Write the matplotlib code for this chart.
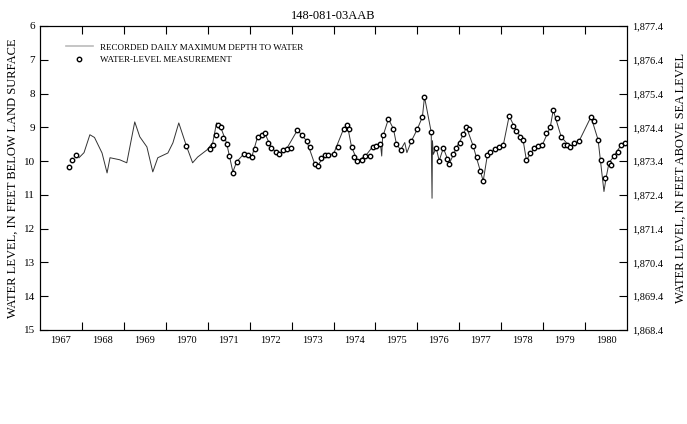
import matplotlib
matplotlib.use("Agg")
import matplotlib.pyplot as plt

plt.rcParams['font.family'] = ['Liberation Serif', 'DejaVu Serif']

meas_year = [1967.69,1967.77,1967.86,1970.48,1971.05,1971.12,1971.19,1971.24,1971.31,1971.36,1971.45,1971.50,1971.60,1971.69,1971.86,1971.95,
             1972.05,1972.12,1972.19,1972.29,1972.36,1972.43,1972.52,1972.62,1972.69,1972.79,1972.88,1972.98,
             1973.14,1973.26,1973.36,1973.45,1973.55,1973.62,1973.69,1973.79,1973.88,
             1974.00,1974.10,1974.24,1974.33,1974.38,1974.43,1974.50,1974.57,1974.67,1974.76,1974.88,1974.93,
             1975.02,1975.12,1975.19,1975.31,1975.43,1975.50,1975.60,1975.86,
             1976.00,1976.12,1976.17,1976.33,1976.45,1976.52,1976.62,1976.71,1976.76,1976.86,1976.93,
             1977.02,1977.10,1977.17,1977.24,1977.33,1977.43,1977.50,1977.57,1977.67,1977.74,1977.86,1977.95,
             1978.05,1978.19,1978.29,1978.36,1978.45,1978.52,1978.60,1978.69,1978.79,1978.88,1978.98,
             1979.07,1979.17,1979.24,1979.33,1979.43,1979.50,1979.57,1979.64,1979.74,1979.86,
             1980.14,1980.21,1980.31,1980.38,1980.48,1980.57,1980.62,1980.69,1980.79,1980.86,1980.95]
meas_depth = [10.17,9.96,9.82,9.55,9.64,9.52,9.22,8.93,8.99,9.31,9.49,9.85,10.35,10.02,9.79,9.82,
              9.88,9.64,9.28,9.22,9.17,9.46,9.61,9.73,9.79,9.67,9.64,9.61,
              9.08,9.22,9.40,9.58,10.08,10.14,9.91,9.82,9.82,
              9.79,9.58,9.05,8.93,9.05,9.58,9.88,9.99,9.96,9.85,9.85,9.58,
              9.55,9.49,9.22,8.75,9.05,9.49,9.67,9.40,
              9.05,8.69,8.10,9.14,9.61,9.99,9.61,9.93,10.08,9.79,9.61,
              9.46,9.20,8.99,9.05,9.55,9.88,10.29,10.59,9.82,9.73,9.64,9.58,
              9.52,8.66,8.96,9.11,9.28,9.37,9.97,9.76,9.61,9.55,9.52,
              9.17,8.99,8.49,8.72,9.28,9.52,9.52,9.58,9.46,9.40,
              8.69,8.81,9.37,9.97,10.50,10.05,10.11,9.85,9.73,9.52,9.45]

line_year = [1967.93,1968.05,1968.19,1968.3,1968.48,1968.6,1968.67,1968.9,1969.07,1969.26,1969.38,1969.55,1969.69,1969.81,
             1970.05,1970.17,1970.31,1970.5,1970.64,1970.76,1970.98,1971.12,1971.21,1971.31,1971.45,1971.60,1971.69,1971.86,
             1972.05,1972.19,1972.36,1972.52,1972.69,1972.88,1973.14,1973.36,1973.55,1973.62,1973.79,1974.00,1974.24,1974.33,
             1974.43,1974.57,1974.76,1974.93,1975.12,1975.15,1975.17,1975.19,1975.31,1975.43,1975.50,1975.60,1975.70,1975.75,1975.86,
             1976.00,1976.12,1976.17,1976.33,1976.35,1976.36,1976.38,1976.45,1976.52,1976.62,1976.76,1976.93,1977.10,1977.17,
             1977.33,1977.50,1977.57,1977.67,1977.86,1978.05,1978.19,1978.36,1978.52,1978.60,1978.79,1978.98,1979.17,1979.24,
             1979.43,1979.64,1979.86,1980.14,1980.31,1980.45,1980.50,1980.57,1980.69,1980.86,1980.95]
line_depth = [9.9,9.75,9.22,9.3,9.76,10.35,9.9,9.96,10.05,8.84,9.28,9.58,10.32,9.9,
              9.76,9.46,8.87,9.58,10.05,9.88,9.67,9.46,8.87,9.0,9.46,10.32,10.02,9.79,
              9.88,9.28,9.17,9.61,9.79,9.64,9.08,9.40,10.08,10.14,9.82,9.79,9.05,8.93,
              9.58,9.99,9.85,9.58,9.49,9.85,9.3,9.22,8.75,9.05,9.49,9.67,9.45,9.75,9.40,
              9.05,8.69,8.10,9.14,11.1,9.4,9.8,9.61,9.99,9.61,10.08,9.61,9.20,8.99,
              9.55,10.29,10.59,9.82,9.64,9.52,8.66,9.11,9.37,9.97,9.61,9.52,8.99,8.49,
              9.28,9.58,9.40,8.69,9.37,10.9,10.50,10.05,9.85,9.52,9.45]

year_labels = [str(y) for y in range(1967, 1981)]
left_ticks = list(range(6, 16))
right_labels = ['1,877.4','1,876.4','1,875.4','1,874.4','1,873.4','1,872.4','1,871.4','1,870.4','1,869.4','1,868.4']

fig = plt.figure(figsize=(6.87, 4.24), dpi=100)
ax = fig.add_axes([0.0582, 0.2217, 0.8545, 0.717])
ax.plot(line_year, line_depth, color='#333333', lw=0.7, label='RECORDED DAILY MAXIMUM DEPTH TO WATER')
ax.plot(meas_year, meas_depth, 'o', ms=3.2, mfc='white', mec='black', mew=1.0, label='WATER-LEVEL MEASUREMENT')
ax.set_xlim(1967, 1981)
ax.set_ylim(15, 6)
ax.set_yticks(left_ticks)
ax.set_yticklabels([str(t) for t in left_ticks], fontsize=8)
ax.set_xticks(range(1968, 1981))
ax.set_xticklabels([])
ax.set_xticks([y + 0.5 for y in range(1967, 1981)], minor=True)
ax.set_xticklabels(year_labels, minor=True, fontsize=7.5)
ax.tick_params(axis='x', which='minor', length=0, pad=4)
ax.tick_params(axis='x', which='major', direction='in', top=True, length=6)
ax.tick_params(axis='y', direction='in', length=6)
ax.set_ylabel('WATER LEVEL, IN FEET BELOW LAND SURFACE', fontsize=9)
ax2 = ax.twinx()
ax2.set_ylim(15, 6)
ax2.set_yticks(left_ticks)
ax2.set_yticklabels(right_labels, fontsize=7.5)
ax2.tick_params(axis='y', direction='in', length=6)
ax2.set_ylabel('WATER LEVEL, IN FEET ABOVE SEA LEVEL', fontsize=9, rotation=90, labelpad=8)
ax.set_title('148-081-03AAB', fontsize=9, pad=5)
leg = ax.legend(loc='upper left', bbox_to_anchor=(0.03, 0.97), frameon=False, fontsize=6.5, handlelength=3)
leg.get_lines()[0].set_color('#bbbbbb')
leg.get_lines()[0].set_linewidth(1.2)
fig.savefig('out.png', dpi=100)
